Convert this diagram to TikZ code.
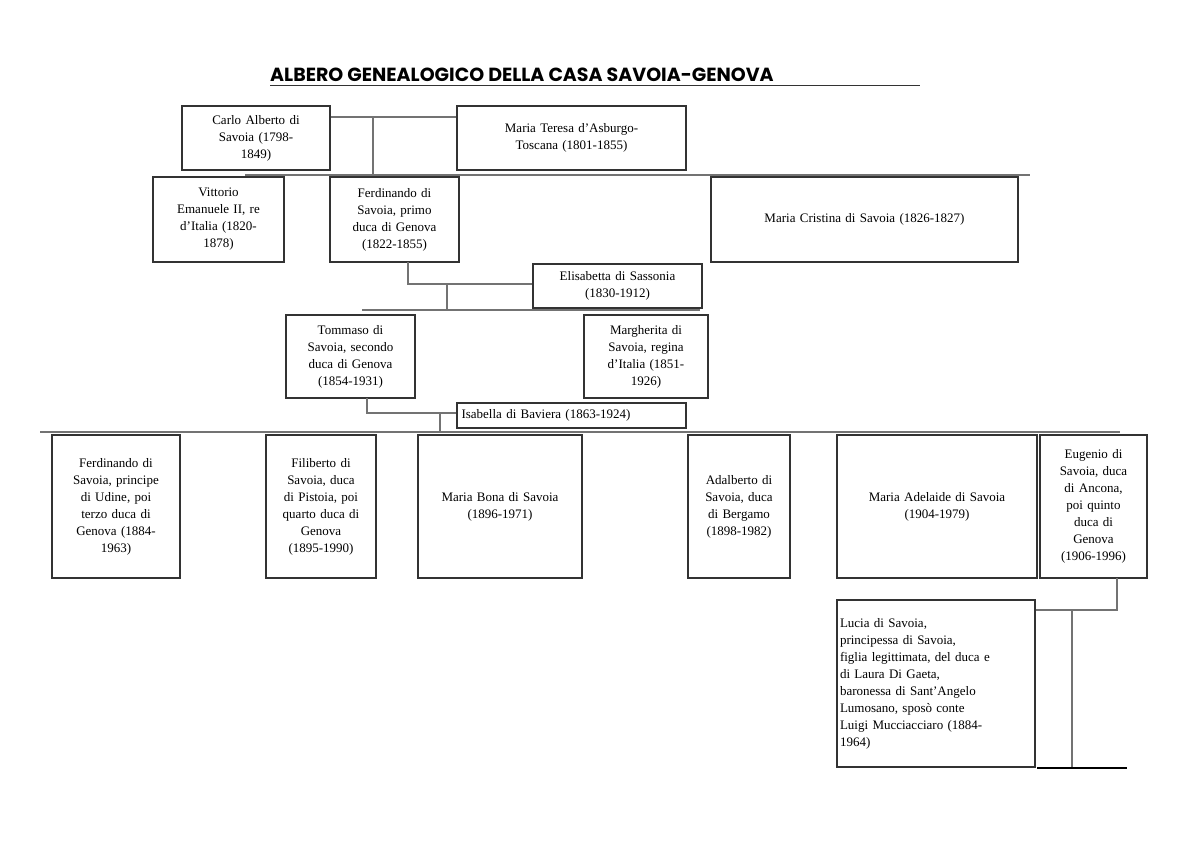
\documentclass[tikz,border=0pt]{standalone}
\usepackage{fontspec}
\setmainfont{Liberation Serif}
\newfontfamily\titlefont{Poppins}
\begin{document}
\begin{tikzpicture}[x=1pt,y=-1pt,
  box/.style={draw=black!80,line width=1.6pt,align=center,inner sep=2pt,font=\fontsize{13}{17}\selectfont},
  ln/.style={draw=black!55,line width=1.1pt}]
\useasboundingbox (0,0) rectangle (1200,849);
\node[font=\titlefont\bfseries\fontsize{19}{22}\selectfont,anchor=base west,inner sep=0pt] (title) at (270,81) {ALBERO GENEALOGICO DELLA CASA SAVOIA-GENOVA};
\draw[black!80,line width=1pt] (title.base west) ++(0,4) coordinate (u1) -- (920,85);
\newcommand\bx[6]{\node[box,minimum width=#4-#2,minimum height=#5-#3,text width=#4-#2-10] (#1) at ({(#2+#4)/2},{(#3+#5)/2}) {#6};}
\bx{carlo}{182}{106}{330}{170}{Carlo Alberto di\\ Savoia (1798-\\ 1849)}
\bx{mteresa}{457}{106}{686}{170}{Maria Teresa d'Asburgo-\\ Toscana (1801-1855)}
\bx{vitt}{153}{177}{284}{262}{Vittorio\\ Emanuele II, re\\ d'Italia (1820-\\ 1878)}
\bx{ferd}{330}{177}{459}{262}{Ferdinando di\\ Savoia, primo\\ duca di Genova\\ (1822-1855)}
\bx{mcrist}{711}{177}{1018}{262}{Maria Cristina di Savoia (1826-1827)}
\bx{elis}{533}{264}{702}{308}{Elisabetta di Sassonia\\ (1830-1912)}
\bx{tomm}{286}{315}{415}{398}{Tommaso di\\ Savoia, secondo\\ duca di Genova\\ (1854-1931)}
\bx{marg}{584}{315}{708}{398}{Margherita di\\ Savoia, regina\\ d'Italia (1851-\\ 1926)}
\node[box,minimum width=229,minimum height=25,text width=220,align=left] (isab) at (571.5,415.5) {Isabella di Baviera (1863-1924)};
\bx{ferd2}{52}{435}{180}{578}{Ferdinando di\\ Savoia, principe\\ di Udine, poi\\ terzo duca di\\ Genova (1884-\\ 1963)}
\bx{filib}{266}{435}{376}{578}{Filiberto di\\ Savoia, duca\\ di Pistoia, poi\\ quarto duca di\\ Genova\\ (1895-1990)}
\bx{mbona}{418}{435}{582}{578}{Maria Bona di Savoia\\ (1896-1971)}
\bx{adalb}{688}{435}{790}{578}{Adalberto di\\ Savoia, duca\\ di Bergamo\\ (1898-1982)}
\bx{madel}{837}{435}{1037}{578}{Maria Adelaide di Savoia\\ (1904-1979)}
\bx{eug}{1040}{435}{1147}{578}{Eugenio di\\ Savoia, duca\\ di Ancona,\\ poi quinto\\ duca di\\ Genova\\ (1906-1996)}
\node[box,minimum width=198,minimum height=167,text width=192,align=left] (lucia) at (936,683.5) {Lucia di Savoia,\\ principessa di Savoia,\\ figlia legittimata, del duca e\\ di Laura Di Gaeta,\\ baronessa di Sant'Angelo\\ Lumosano, spos\`o conte\\ Luigi Mucciacciaro (1884-\\ 1964)\\[10pt]};
% connectors
\draw[ln] (carlo.east |- 0,117) -- (mteresa.west |- 0,117);
\coordinate (c1) at (373,117); \coordinate (c2) at (373,175);
\draw[ln] (c1) -- (c2);
\draw[ln] (245,175) -- (1030,175);
\draw[ln] (408,262) -- (408,284) -- (elis.west |- 0,284);
\draw[ln] (447,284) -- (447,310);
\draw[ln] (362,310) -- (700,310);
\draw[ln] (367,398) -- (367,413) -- (isab.west |- 0,413);
\draw[ln] (440,413) -- (440,432);
\draw[ln] (40,432) -- (1120,432);
\draw[ln] (1117,578) -- (1117,610) -- (lucia.east |- 0,610);
\draw[ln] (1072,610) -- (1072,767);
\draw[black,line width=2.5pt] (1037,768) -- (1127,768);
\end{tikzpicture}
\end{document}
